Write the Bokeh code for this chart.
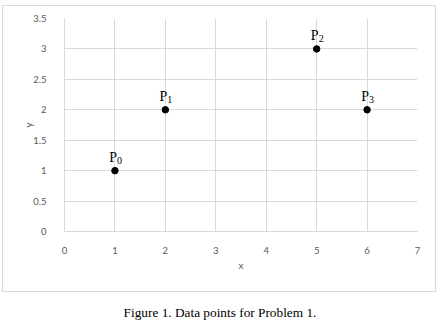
from bokeh.plotting import figure
from bokeh.models import Range1d, ColumnDataSource, FixedTicker, Div
from bokeh.layouts import column
from bokeh.core.properties import value
from bokeh.embed import file_html
from bokeh.resources import INLINE

xs = [1, 2, 5, 6]
ys = [1, 2, 3, 2]
names = ["P", "P", "P", "P"]
subs = ["0", "1", "2", "3"]
x_ticks = [0, 1, 2, 3, 4, 5, 6, 7]
y_ticks = [0, 0.5, 1, 1.5, 2, 2.5, 3, 3.5]
caption = "Figure 1. Data points for Problem 1."

src = ColumnDataSource(dict(x=xs, y=ys, name=names, sub=subs))

grid_col = "#d9d9d9"
p = figure(width=434, height=287, output_backend="svg", toolbar_location=None,
           x_range=Range1d(0, 7), y_range=Range1d(0, 3.5),
           min_border_left=61, min_border_right=20, min_border_top=12, min_border_bottom=62,
           margin=(5, 0, 0, 2),
           styles={"border": "1px solid " + grid_col, "box-sizing": "border-box"})
p.background_fill_color = "white"
p.border_fill_color = "white"
p.outline_line_color = None

for ax in (p.xaxis[0], p.yaxis[0]):
    ax.major_tick_line_color = None
    ax.minor_tick_line_color = None
    ax.axis_line_color = grid_col
    ax.major_label_text_color = "#595959"
    ax.major_label_text_font = "Lato"
    ax.major_label_text_font_size = "9.5px"
    ax.axis_label_text_color = "#595959"
    ax.axis_label_text_font = "Lato"
    ax.axis_label_text_font_size = "10px"
    ax.axis_label_text_font_style = "normal"

p.xaxis.ticker = FixedTicker(ticks=x_ticks)
p.yaxis.ticker = FixedTicker(ticks=y_ticks)
p.xaxis.axis_label = "x"
p.yaxis.axis_label = "y"
p.xaxis.major_label_standoff = 9
p.yaxis.major_label_standoff = 12
p.xaxis.axis_label_standoff = 2
p.yaxis.axis_label_standoff = -4

p.xgrid.ticker = FixedTicker(ticks=x_ticks)
p.ygrid.ticker = FixedTicker(ticks=y_ticks)
p.xgrid.grid_line_color = grid_col
p.ygrid.grid_line_color = grid_col

p.scatter("x", "y", source=src, size=6.5, color="black")
p.text("x", "y", text="name", source=src, text_align="right", text_baseline="alphabetic",
       x_offset=2, y_offset=-13, text_font=value("Liberation Serif"),
       text_font_size="14px", text_color="black")
p.text("x", "y", text="sub", source=src, text_align="left", text_baseline="alphabetic",
       x_offset=2, y_offset=-10, text_font=value("Liberation Serif"),
       text_font_size="10px", text_color="black")

cap = Div(text=caption, width=440, height=30, margin=(12, 0, 0, 0),
          styles={"text-align": "center", "font-family": "Liberation Serif",
                  "font-size": "13.3px", "color": "black", "width": "440px"})

layout = column(p, cap, margin=0, spacing=0)
open("out.html", "w").write(file_html(layout, INLINE))
